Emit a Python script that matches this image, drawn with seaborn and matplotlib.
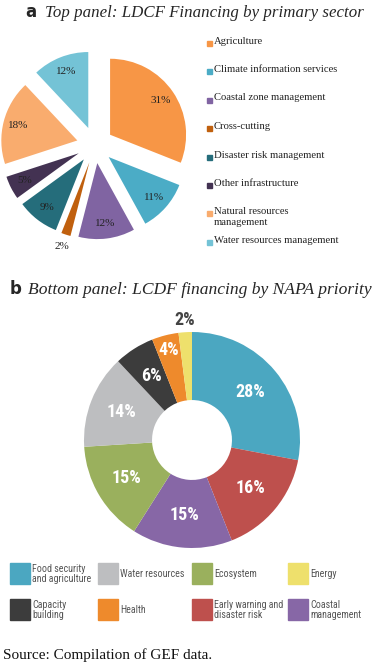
import matplotlib
matplotlib.use("Agg")
import matplotlib.pyplot as plt
from matplotlib.patches import Rectangle
from matplotlib import font_manager
import numpy as np
import seaborn as sns

# ---------------- data ----------------
sectors = ["Agriculture", "Climate information services", "Coastal zone management",
           "Cross-cutting", "Disaster risk management", "Other infrastructure",
           "Natural resources\nmanagement", "Water resources management"]
sector_pct = [31, 11, 12, 2, 9, 5, 18, 12]
sector_colors = ["#F79646", "#4BACC6", "#8064A2", "#C0600E", "#256D7B", "#433252",
                 "#F9AC6E", "#74C3D6"]

napa = ["Food security\nand agriculture", "Early warning and\ndisaster risk",
        "Coastal\nmanagement", "Ecosystem", "Water resources", "Capacity\nbuilding",
        "Health", "Energy"]
napa_pct = [28, 16, 15, 15, 14, 6, 4, 2]
napa_colors = ["#4BA7C1", "#BE504D", "#8767A6", "#9AB05D", "#BDBEC0", "#3C3C3C",
               "#EE8A2C", "#EEE06C"]
# legend layout order (row 1 then row 2)
napa_legend_order = ["Food security\nand agriculture", "Water resources", "Ecosystem", "Energy",
                     "Capacity\nbuilding", "Health", "Early warning and\ndisaster risk",
                     "Coastal\nmanagement"]

sns.set_theme(style="white")
plt.rcParams['font.family'] = ['Liberation Serif', 'DejaVu Serif']

names = {f.name for f in font_manager.fontManager.ttflist}
narrow = 'Liberation Sans'
for cand in ['Liberation Sans Narrow', 'Roboto Condensed', 'DejaVu Sans Condensed',
             'Open Sans Condensed', 'Noto Sans Condensed']:
    if cand in names:
        narrow = cand
        break
is_narrow = narrow != 'Liberation Sans'

W, H = 378, 664
fig = plt.figure(figsize=(W / 100, H / 100), dpi=100)
fig.patch.set_facecolor("white")


def fx(px):
    return px / W


def fy(py):
    return 1 - py / H


def add_ax(left, top, right, bottom):
    ax = fig.add_axes([fx(left), fy(bottom), (right - left) / W, (bottom - top) / H])
    return ax

# ---------------- top panel ----------------
fig.text(fx(25), fy(17), "a", fontsize=12, fontweight="bold", family="DejaVu Sans")
fig.text(fx(45), fy(17), "Top panel: LDCF Financing by primary sector", fontsize=12.2,
         style="italic")

ax1 = add_ax(0, 40, 205, 265)
explode = [0.24] * len(sector_pct)
wedges, texts, autotexts = ax1.pie(sector_pct, colors=sector_colors, startangle=90,
                                   counterclock=False, explode=explode,
                                   autopct=lambda p: f"{p:.0f}%", pctdistance=0.8,
                                   textprops=dict(fontsize=8, color="#222222"),
                                   wedgeprops=dict(linewidth=0), frame=True)
ax1.set_xlim((0 - 95) / 76, (205 - 95) / 76)
ax1.set_ylim(-(265 - 145) / 76, (145 - 40) / 76)
ax1.set_aspect("auto")
ax1.set_axis_off()
# move the small slice label outside
i_small = int(np.argmin(sector_pct))
w = wedges[i_small]
ang = np.deg2rad((w.theta1 + w.theta2) / 2)
cx0, cy0 = w.center
autotexts[i_small].set_position((cx0 + 1.16 * np.cos(ang), cy0 + 1.16 * np.sin(ang)))

# top legend
for i, (lab, col) in enumerate(zip(sectors, sector_colors)):
    y = 43 + 28.5 * i
    fig.add_artist(Rectangle((fx(207), fy(y + 2.5)), 5 / W, 5 / H, color=col,
                             transform=fig.transFigure))
    fig.text(fx(214), fy(y - 6.5), lab, fontsize=7.7, va="top", color="#222222",
             linespacing=1.2)

# ---------------- bottom panel ----------------
fig.text(fx(10), fy(294), "b", fontsize=12, fontweight="bold", family="DejaVu Sans")
fig.text(fx(28), fy(294), "Bottom panel: LCDF financing by NAPA priority", fontsize=12.6,
         style="italic")

ax2 = add_ax(60, 300, 324, 560)
lbl_size = 13 if is_narrow else 10.5
w2, t2, a2 = ax2.pie(napa_pct, colors=napa_colors, startangle=90, counterclock=False,
                     autopct=lambda p: f"{p:.0f}%", pctdistance=0.70,
                     wedgeprops=dict(width=0.63, linewidth=0),
                     textprops=dict(fontsize=lbl_size, color="white", fontweight="bold",
                                    family=narrow), frame=True)
ax2.set_xlim((60 - 192) / 108, (324 - 192) / 108)
ax2.set_ylim(-(560 - 440) / 108, (440 - 300) / 108)
ax2.set_aspect("auto")
ax2.set_axis_off()
j_small = int(np.argmin(napa_pct))
w = w2[j_small]
ang = np.deg2rad((w.theta1 + w.theta2) / 2)
a2[j_small].set_position((1.09 * np.cos(ang), 1.11 * np.sin(ang)))
a2[j_small].set_color("#444444")
j4 = napa_pct.index(4)
w = w2[j4]
ang = np.deg2rad((w.theta1 + w.theta2) / 2)
a2[j4].set_position((0.86 * np.cos(ang), 0.86 * np.sin(ang)))

# bottom legend
col_x = [10, 98, 192, 288]
row_y = [563, 599]
color_of = dict(zip(napa, napa_colors))
leg_size = 7.2 if is_narrow else 6.3
for k, lab in enumerate(napa_legend_order):
    r, c = divmod(k, 4)
    x0, y0 = col_x[c], row_y[r]
    fig.add_artist(Rectangle((fx(x0), fy(y0 + 21)), 20 / W, 21 / H, color=color_of[lab],
                             transform=fig.transFigure))
    fig.text(fx(x0 + 22), fy(y0 + 11), lab, fontsize=leg_size, va="center", color="#555555",
             family=narrow, linespacing=1.0)

fig.text(fx(3), fy(659), "Source: Compilation of GEF data.", fontsize=11, color="#111111")

fig.savefig("out.png", dpi=100, facecolor="white")
